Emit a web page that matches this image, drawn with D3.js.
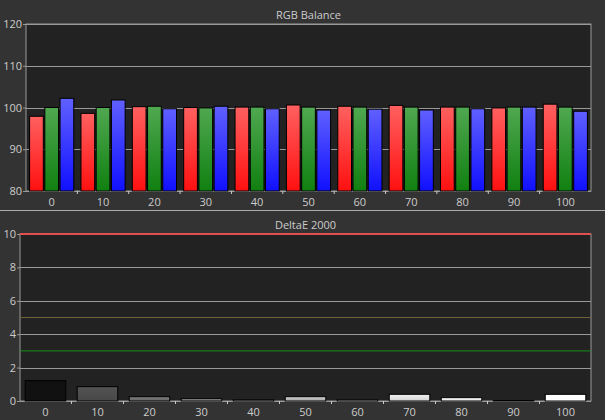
<!DOCTYPE html>
<html><head><meta charset="utf-8">
<script src="https://cdn.jsdelivr.net/npm/d3@7"></script>
<style>body{margin:0;background:#333}svg{display:block}text{font-family:"Open Sans",sans-serif;fill:#ccc}</style>
</head><body><svg id="c" width="605" height="420"></svg>
<script>
const categories=["0","10","20","30","40","50","60","70","80","90","100"];
const redValues=[97.9,98.6,100.2,100,100.1,100.6,100.3,100.5,100.1,99.9,100.8];
const greenValues=[100,100,100.3,99.9,100.1,100.1,100.1,100.1,100.1,100.1,100.1];
const blueValues=[102.2,101.8,99.7,100.3,99.7,99.4,99.6,99.4,99.7,100.1,99.1];
const deltaE=[1.22,0.86,0.26,0.14,0.08,0.26,0.08,0.4,0.2,0.03,0.4];
const rgbTicks=[80,90,100,110,120];
const deTicks=[0,2,4,6,8,10];

const svg=d3.select("#c");
const defs=svg.append("defs");
function grad(id,top,bot){const g=defs.append("linearGradient").attr("id",id).attr("x1",0).attr("y1",0).attr("x2",0).attr("y2",1);
g.append("stop").attr("offset",0).attr("stop-color",top);g.append("stop").attr("offset",1).attr("stop-color",bot);}
grad("gr","#ff6060","#ff1010");grad("gg","#50a850","#108010");grad("gb","#6060ff","#1010ff");
svg.append("rect").attr("width",605).attr("height",420).attr("fill","#333");
svg.append("line").attr("x1",0).attr("x2",605).attr("y1",210.5).attr("y2",210.5).attr("stroke","#aaa");

function frame(x0,x1,y,ticks,title,titleY){
  svg.append("rect").attr("x",x0).attr("y",y.range()[1]).attr("width",x1-x0).attr("height",y.range()[0]-y.range()[1]).attr("fill","#222").attr("stroke","#999");
  svg.append("g").selectAll("line").data(ticks).join("line").attr("x1",x0).attr("x2",x1)
   .attr("y1",d=>Math.round(y(d))+0.5).attr("y2",d=>Math.round(y(d))+0.5).attr("stroke","#999");
  const ax=svg.append("g").attr("transform",`translate(${x0},0)`).call(d3.axisLeft(y).tickValues(ticks).tickSize(3));
  ax.select(".domain").remove();ax.selectAll("line").attr("stroke","#999");
  ax.selectAll("text").attr("font-size",11).style("fill","#ccc").attr("dx",2);
  svg.append("text").attr("x",(x0+x1)/2).attr("y",titleY).attr("text-anchor","middle").attr("font-size",11).text(title);
}
function xaxis(x,yb){
  const g=svg.append("g").attr("transform",`translate(0,${yb})`);
  g.selectAll("line").data(categories.slice(1)).join("line").attr("x1",d=>x(d)-x.step()*x.paddingInner()/2).attr("x2",d=>x(d)-x.step()*x.paddingInner()/2).attr("y1",0).attr("y2",3).attr("stroke","#ccc");
  g.selectAll("text").data(categories).join("text").attr("x",d=>x(d)+x.bandwidth()/2).attr("y",15).attr("text-anchor","middle").attr("font-size",11).text(d=>d);
}
const x1=d3.scaleBand().domain(categories).range([26,591]).paddingInner(0.14).paddingOuter(0.07);
const y1=d3.scaleLinear().domain([80,120]).range([191,24]);
frame(26,591,y1,rgbTicks,"RGB Balance",19);
const sub=d3.scaleBand().domain(["r","g","b"]).range([0,x1.bandwidth()]).paddingInner(0.1);
const series=[["r",redValues,"url(#gr)"],["g",greenValues,"url(#gg)"],["b",blueValues,"url(#gb)"]];
series.forEach(([k,vals,f])=>{
  svg.append("g").selectAll("rect").data(vals).join("rect").attr("x",(d,i)=>x1(categories[i])+sub(k)).attr("width",sub.bandwidth())
   .attr("y",d=>y1(d)).attr("height",d=>y1(80)-y1(d)).attr("fill",f).attr("stroke","#000").attr("stroke-width",1);
});
xaxis(x1,191);
const x2=d3.scaleBand().domain(categories).range([20,591]).paddingInner(0.22).paddingOuter(0.1);
const y2=d3.scaleLinear().domain([0,10]).range([401,234]);
frame(20,591,y2,deTicks,"DeltaE 2000",229);
[[5,"#6e6238"],[3,"#1a901a"]].forEach(([v,c])=>svg.append("line").attr("x1",20).attr("x2",591).attr("y1",y2(v)).attr("y2",y2(v)).attr("stroke",c));
svg.append("line").attr("x1",20).attr("x2",591).attr("y1",y2(10)).attr("y2",y2(10)).attr("stroke","#e05050").attr("stroke-width",2);
deltaE.forEach((d,i)=>{
  const lv=+categories[i]/100, v=Math.pow(lv,0.55)*255, c=d3.rgb(v,v,v);
  grad("gd"+i,c.brighter(0.4).formatHex(),c.formatHex());
});
svg.append("g").selectAll("rect").data(deltaE).join("rect").attr("x",(d,i)=>x2(categories[i])).attr("width",x2.bandwidth())
 .attr("y",d=>y2(d)).attr("height",d=>y2(0)-y2(d)).attr("fill",(d,i)=>i==0?"#111":"url(#gd"+i+")").attr("stroke","#000");
xaxis(x2,401);
</script></body></html>
